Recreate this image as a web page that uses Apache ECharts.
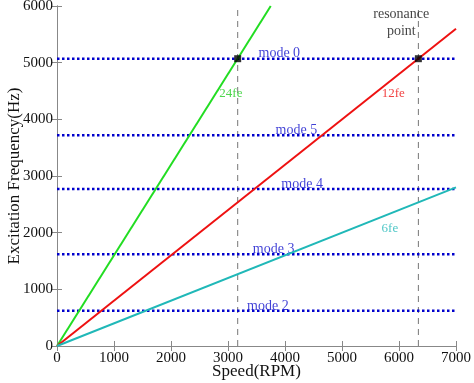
<!DOCTYPE html>
<html><head><meta charset="utf-8">
<script src="https://cdn.jsdelivr.net/npm/echarts@6/dist/echarts.min.js"></script>
<style>html,body{margin:0;padding:0;background:#fff}#c{width:474px;height:383px}</style>
</head><body><div id="c"></div>
<script>
// excitation order lines: [speed RPM, frequency Hz]
const line6fe = [[0, 0], [7000, 2800]];
const line12fe = [[0, 0], [7000, 5600]];
const line24fe = [[0, 0], [3750, 6000]];
// modal frequencies
const modeNames = ['mode 0', 'mode 5', 'mode 4', 'mode 3', 'mode 2'];
const modeFreqs = [5070, 3720, 2770, 1620, 620];
const modeLabelX = [3900, 4200, 4300, 3800, 3700];
// resonance points
const resonance = [[3170, 5070], [6340, 5070]];
const xTicks = [0, 1000, 2000, 3000, 4000, 5000, 6000, 7000];
const yTicks = [0, 1000, 2000, 3000, 4000, 5000, 6000];

const font = 'Liberation Serif';
const chart = echarts.init(document.getElementById('c'));
const series = [];
modeFreqs.forEach((f, i) => {
  series.push({
    type: 'line', data: [[0, f], [7000, f]], symbol: 'none', silent: true,
    lineStyle: { color: '#0000cc', width: 2.5, type: [2.5, 2.5] }, z: 3
  });
  series.push({
    type: 'scatter', data: [[modeLabelX[i], f]], symbolSize: 0, silent: true,
    label: { show: true, formatter: modeNames[i], position: 'top', distance: -2,
      color: '#1010cc', fontFamily: font, fontSize: 14 }
  });
});
series.push(
  { type: 'line', data: line24fe, symbol: 'none', lineStyle: { color: '#22dd22', width: 2 }, z: 4 },
  { type: 'line', data: line12fe, symbol: 'none', lineStyle: { color: '#ee1111', width: 2 }, z: 4 },
  { type: 'line', data: line6fe, symbol: 'none', lineStyle: { color: '#20b8b8', width: 2 }, z: 4 },
  { type: 'line', data: [[resonance[0][0], 0], [resonance[0][0], 6000]], symbol: 'none',
    lineStyle: { color: '#777', width: 1, type: [6, 5] }, z: 2 },
  { type: 'line', data: [[resonance[1][0], 0], [resonance[1][0], 6000]], symbol: 'none',
    lineStyle: { color: '#777', width: 1, type: [6, 5] }, z: 2 },
  { type: 'scatter', data: resonance, symbol: 'rect', symbolSize: 7,
    itemStyle: { color: '#000' }, z: 6 },
  { type: 'scatter', data: [[3050, 4450]], symbolSize: 0,
    label: { show: true, formatter: '24fe', color: '#22cc22', fontFamily: font, fontSize: 13 } },
  { type: 'scatter', data: [[5900, 4450]], symbolSize: 0,
    label: { show: true, formatter: '12fe', color: '#ee1111', fontFamily: font, fontSize: 13 } },
  { type: 'scatter', data: [[5840, 2080]], symbolSize: 0,
    label: { show: true, formatter: '6fe', color: '#20b8b8', fontFamily: font, fontSize: 13 } },
  { type: 'scatter', data: [[6040, 5700]], symbolSize: 0,
    label: { show: true, formatter: 'resonance\npoint', color: '#111', fontFamily: font, fontSize: 14,
      lineHeight: 17, align: 'center' } }
);

const axisLine = { show: true, lineStyle: { color: '#888', width: 1 } };
chart.setOption({
  animation: false,
  grid: { left: 57, right: 18, top: 6, bottom: 37, containLabel: false, outerBoundsMode: 'none' },
  xAxis: [
    { type: 'value', min: 0, max: 7000, interval: 1000, splitLine: { show: false },
      axisLine, axisTick: { inside: true, length: 5, lineStyle: { color: '#888' } },
      axisLabel: { color: '#111', fontFamily: font, fontSize: 15, margin: 5,
        formatter: v => xTicks.includes(v) ? String(v) : '' },
      name: 'Speed(RPM)', nameLocation: 'middle', nameGap: 17, nameMoveOverlap: false,
      nameTextStyle: { color: '#111', fontFamily: font, fontSize: 17 } },
    { type: 'value', position: 'top', min: 0, max: 7000, interval: 1000, splitLine: { show: false },
      axisLine, axisTick: { inside: true, length: 5, lineStyle: { color: '#888' } }, axisLabel: { show: false } }
  ],
  yAxis: [
    { type: 'value', min: 0, max: 6000, interval: 1000, splitLine: { show: false },
      axisLine, axisTick: { inside: true, length: 5, lineStyle: { color: '#888' } },
      axisLabel: { color: '#111', fontFamily: font, fontSize: 15, margin: 4,
        formatter: v => yTicks.includes(v) ? String(v) : '' },
      name: 'Excitation Frequency(Hz)', nameLocation: 'middle', nameGap: 34, nameMoveOverlap: false,
      nameTextStyle: { color: '#111', fontFamily: font, fontSize: 17 } },
    { type: 'value', position: 'right', min: 0, max: 6000, interval: 1000, splitLine: { show: false },
      axisLine, axisTick: { inside: true, length: 5, lineStyle: { color: '#888' } }, axisLabel: { show: false } }
  ],
  series
});
</script></body></html>
